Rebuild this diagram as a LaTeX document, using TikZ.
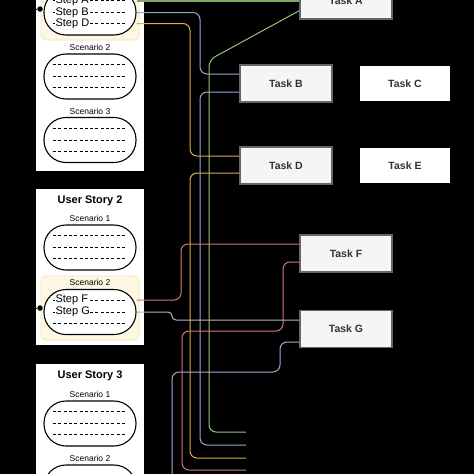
\documentclass[tikz,border=0pt]{standalone}
\usepackage{fontspec}
\setmainfont{Liberation Sans}
\usetikzlibrary{arrows,positioning,calc}
\definecolor{grn}{HTML}{97C27A}
\definecolor{grnband}{HTML}{7FA663}
\definecolor{blu}{HTML}{8FA9CF}
\definecolor{org}{HTML}{DBAE4E}
\definecolor{rd}{HTML}{D07676}
\definecolor{lav}{HTML}{A9A6D2}
\definecolor{lavg}{HTML}{B5B3C9}
\definecolor{hlfill}{HTML}{FEF7E3}
\definecolor{hlline}{HTML}{F0E2B6}
\definecolor{taskfill}{HTML}{F5F5F5}
\definecolor{taskline}{HTML}{666666}

\tikzset{
  task/.style={draw=taskline, fill=taskfill, line width=1.2pt, minimum width=92pt,
    minimum height=37pt, text=black!80, font=\bfseries\fontsize{10.5}{12}\selectfont},
  tasknew/.style={task, draw=none, fill=white, minimum width=90pt, minimum height=35pt},
  pill/.style={draw=black, line width=1.1pt, fill=white, rounded corners=22pt,
    minimum width=92pt, minimum height=45pt},
  scen/.style={font=\fontsize{8.5}{10}\selectfont},
  storytitle/.style={font=\bfseries\fontsize{11}{13}\selectfont},
  steptxt/.style={anchor=west, fill=white, inner sep=0.4pt, font=\fontsize{11}{12}\selectfont},
  dotline/.style={dash pattern=on 3pt off 2.3pt, line width=0.6pt},
  hl/.style={fill=hlfill, draw=hlline, line width=0.8pt, rounded corners=5pt},
  link/.style={line width=1pt, rounded corners=7pt},
  dot/.style={circle, fill=black, inner sep=0pt, minimum size=5.5pt}
}

\begin{document}
\begin{tikzpicture}[x=1pt, y=-1pt]
  \useasboundingbox (0,0) rectangle (474,474);
  \fill[black] (0,0) rectangle (474,474);

  % user story panels
  \fill[white] (36,-20) rectangle (144,171);
  \fill[white] (36,189) rectangle (144,345);
  \fill[white] (36,364) rectangle (144,490);
  \draw[hl] (41,-20) rectangle (139,40);
  \draw[hl] (41,276) rectangle (139,340);

  \node (t2) [storytitle] at (90,201) {User Story 2};
  \node (t3) [storytitle] at (90,376) {User Story 3};

  % scenarios
  \node (s11) [pill] at (90,12.5) {};
  \node (s12) [pill] at (90,76.5) {};
  \node (s13) [pill] at (90,140) {};
  \node (s21) [pill] at (90,247.5) {};
  \node (s22) [pill] at (90,312) {};
  \node (s31) [pill] at (90,423.5) {};
  \node (s32) [pill] at (90,487.5) {};

  \node (l12) [scen] at (90,47) {Scenario 2};
  \node (l13) [scen] at (90,111) {Scenario 3};
  \node (l21) [scen] at (90,218) {Scenario 1};
  \node (l22) [scen] at (90,282) {Scenario 2};
  \node (l31) [scen] at (90,394) {Scenario 1};
  \node (l32) [scen] at (90,458) {Scenario 2};

  \foreach \p in {s11,s12,s13,s21,s22,s31,s32}
    \foreach \dy in {-12,0,11}
      \draw[dotline] ($(\p.center)+(-37,\dy)$) -- ++(74,0);

  \node (stA) [steptxt] at (55,0.5) {Step A};
  \node (stB) [steptxt] at (55,12.5) {Step B};
  \node (stD) [steptxt] at (55,23.5) {Step D};
  \node (stF) [steptxt] at (55,300) {Step F};
  \node (stG) [steptxt] at (55,312) {Step G};

  \node (d1) [dot] at (40,9) {};
  \node (d2) [dot] at (40,308) {};
  \draw[line width=1pt] (d1) -- ++(-12,0);
  \draw[line width=1pt] (d2) -- ++(-12,0);

  % tasks
  \node (taskA) [task] at (346,0.5) {Task A};
  \node (taskB) [task] at (286,83.5) {Task B};
  \node (taskC) [tasknew] at (405,83.5) {Task C};
  \node (taskD) [task] at (286,165.5) {Task D};
  \node (taskE) [tasknew] at (405,165.5) {Task E};
  \node (taskF) [task] at (346,253.5) {Task F};
  \node (taskG) [task] at (346,329) {Task G};

  \draw[->, >=stealth, black] (taskB) -- (taskD);
  \draw[->, >=stealth, black] (taskF) -- (taskG);

  % free ends at the bottom
  \coordinate (eA) at (246,432);
  \coordinate (eB) at (246,445);
  \coordinate (eD) at (246,458);
  \coordinate (eF) at (246,470);
  \coordinate (eG) at (172,480);

  % links from steps to tasks
  \draw[grnband, line width=2.2pt] (s11.east |- stA) -- (taskA.west |- stA);
  \draw[grn, link] (taskA.south west) ++(0,-9) -- (209,60) -- (209,432) -- (eA);
  \draw[blu, link] (s11.east |- stB) -- (200,12.5) -- (200,74) -- (taskB.west |- 0,74);
  \draw[blu, link] (taskB.west |- 0,92) -- (200,92) -- (200,445) -- (eB);
  \draw[org, link] (s11.east |- stD) -- (190,23.5) -- (190,156) -- (taskD.west |- 0,156);
  \draw[org, link] (taskD.west |- 0,173) -- (190,173) -- (190,458) -- (eD);
  \draw[rd, link] (s22.east |- stF) -- (181,300) -- (181,244) -- (taskF.west |- 0,244);
  \draw[rd, link] (taskF.west |- 0,262) -- (283,262) -- (283,331) -- (182,331) -- (182,470) -- (eF);
  \draw[lavg, link, rounded corners=4pt] (s22.east |- stG) -- (172,312) -- (172,320) -- (taskG.west |- 0,320);
  \draw[lav, link] (taskG.west |- 0,342) -- (280,342) -- (280,372) -- (172,372) -- (eG);
\end{tikzpicture}
\end{document}
